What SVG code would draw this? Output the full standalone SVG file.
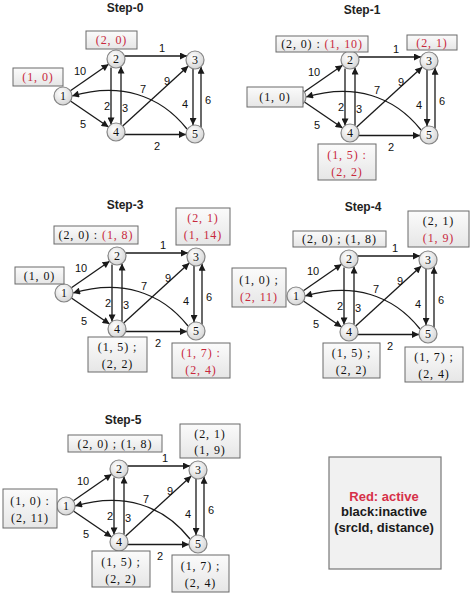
<svg xmlns="http://www.w3.org/2000/svg" xmlns:xlink="http://www.w3.org/1999/xlink" width="474" height="594" viewBox="0 0 474 594">
<style>
.e{fill:none;stroke:#1a1a1a;stroke-width:1.3;marker-end:url(#ah)}
.el{font-family:"Liberation Sans",Arial,sans-serif;font-size:11px;fill:#111;text-anchor:middle}
.nc{fill:url(#ng);stroke:#858585;stroke-width:1.2}
.nt{font-family:"Liberation Serif","Times New Roman",serif;font-size:12px;fill:#111;text-anchor:middle}
.bx{fill:url(#bg);stroke:#6a6a6a;stroke-width:1}
.bt{font-family:"Liberation Serif","Times New Roman",serif;font-size:12px;fill:#111;text-anchor:middle;letter-spacing:0.9px}
.r{fill:#c8283c}
.ti{font-family:"Liberation Sans",Arial,sans-serif;font-size:12px;font-weight:bold;fill:#222;text-anchor:middle}
.lg{font-family:"Liberation Sans",Arial,sans-serif;font-size:13px;font-weight:bold;fill:#1a1a1a;text-anchor:middle}
</style>
<defs>
<marker id="ah" viewBox="0 0 10 10" refX="10" refY="5" markerWidth="8" markerHeight="7" markerUnits="userSpaceOnUse" orient="auto">
<path d="M0,0 L10,5 L0,10 z" fill="#1a1a1a"/>
</marker>
<radialGradient id="ng" cx="0.4" cy="0.35" r="0.7">
<stop offset="0" stop-color="#ffffff"/>
<stop offset="1" stop-color="#d4d4d4"/>
</radialGradient>
<linearGradient id="bg" x1="0" y1="0" x2="0" y2="1">
<stop offset="0" stop-color="#fbfbfb"/>
<stop offset="1" stop-color="#e6e6e6"/>
</linearGradient>
</defs>
<rect width="474" height="594" fill="#ffffff"/>

<!-- titles -->
<g id="titles">
<text class="ti" x="125" y="12">Step-0</text>
<text class="ti" x="362" y="14">Step-1</text>
<text class="ti" x="125" y="209">Step-3</text>
<text class="ti" x="363" y="211">Step-4</text>
<text class="ti" x="123" y="424">Step-5</text>
</g>

<!-- connectors -->
<g id="connectors">
<g id="s0-edges" transform="translate(0,0)">
<path class="e" d="M70.4,90.8 L108.6,64.2"/>
<path class="e" d="M70.4,101 L108.6,127"/>
<path class="e" d="M124.5,56 L187,56"/>
<path class="e" d="M111,67.6 L111,124.5"/>
<path class="e" d="M121,124.5 L121,66.5"/>
<path class="e" d="M122.7,125.9 L188.3,66.1"/>
<path class="e" d="M125,134.5 L186,134.5"/>
<path class="e" d="M193,69 L193,125"/>
<path class="e" d="M201,127.3 L201,66.7"/>
<path class="e" d="M187,129 C160,95 120,82 72,96"/>
<text class="el" x="80" y="75">10</text><text class="el" x="83" y="128">5</text><text class="el" x="162" y="52">1</text><text class="el" x="107" y="110">2</text><text class="el" x="125" y="112">3</text><text class="el" x="167" y="85">9</text><text class="el" x="157" y="150">2</text><text class="el" x="185" y="108">4</text><text class="el" x="208" y="104">6</text><text class="el" x="143" y="93">7</text>
</g>
<g id="s1-edges" transform="translate(234,1)">
<path class="e" d="M70.4,90.8 L108.6,64.2"/>
<path class="e" d="M70.4,101 L108.6,127"/>
<path class="e" d="M124.5,56 L187,56"/>
<path class="e" d="M111,67.6 L111,124.5"/>
<path class="e" d="M121,124.5 L121,66.5"/>
<path class="e" d="M122.7,125.9 L188.3,66.1"/>
<path class="e" d="M125,134.5 L186,134.5"/>
<path class="e" d="M193,69 L193,125"/>
<path class="e" d="M201,127.3 L201,66.7"/>
<path class="e" d="M187,129 C160,95 120,82 72,96"/>
<text class="el" x="80" y="75">10</text><text class="el" x="83" y="128">5</text><text class="el" x="162" y="52">1</text><text class="el" x="107" y="110">2</text><text class="el" x="125" y="112">3</text><text class="el" x="167" y="85">9</text><text class="el" x="157" y="150">2</text><text class="el" x="185" y="108">4</text><text class="el" x="208" y="104">6</text><text class="el" x="143" y="93">7</text>
</g>
<g id="s3-edges" transform="translate(1,197)">
<path class="e" d="M70.4,90.8 L108.6,64.2"/>
<path class="e" d="M70.4,101 L108.6,127"/>
<path class="e" d="M124.5,56 L187,56"/>
<path class="e" d="M111,67.6 L111,124.5"/>
<path class="e" d="M121,124.5 L121,66.5"/>
<path class="e" d="M122.7,125.9 L188.3,66.1"/>
<path class="e" d="M125,134.5 L186,134.5"/>
<path class="e" d="M193,69 L193,125"/>
<path class="e" d="M201,127.3 L201,66.7"/>
<path class="e" d="M187,129 C160,95 120,82 72,96"/>
<text class="el" x="80" y="75">10</text><text class="el" x="83" y="128">5</text><text class="el" x="162" y="52">1</text><text class="el" x="107" y="110">2</text><text class="el" x="125" y="112">3</text><text class="el" x="167" y="85">9</text><text class="el" x="157" y="150">2</text><text class="el" x="185" y="108">4</text><text class="el" x="208" y="104">6</text><text class="el" x="143" y="93">7</text>
</g>
<g id="s4-edges" transform="translate(233,200)">
<path class="e" d="M70.4,90.8 L108.6,64.2"/>
<path class="e" d="M70.4,101 L108.6,127"/>
<path class="e" d="M124.5,56 L187,56"/>
<path class="e" d="M111,67.6 L111,124.5"/>
<path class="e" d="M121,124.5 L121,66.5"/>
<path class="e" d="M122.7,125.9 L188.3,66.1"/>
<path class="e" d="M125,134.5 L186,134.5"/>
<path class="e" d="M193,69 L193,125"/>
<path class="e" d="M201,127.3 L201,66.7"/>
<path class="e" d="M187,129 C160,95 120,82 72,96"/>
<text class="el" x="80" y="75">10</text><text class="el" x="83" y="128">5</text><text class="el" x="162" y="52">1</text><text class="el" x="107" y="110">2</text><text class="el" x="125" y="112">3</text><text class="el" x="167" y="85">9</text><text class="el" x="157" y="150">2</text><text class="el" x="185" y="108">4</text><text class="el" x="208" y="104">6</text><text class="el" x="143" y="93">7</text>
</g>
<g id="s5-edges" transform="translate(3,410)">
<path class="e" d="M70.4,90.8 L108.6,64.2"/>
<path class="e" d="M70.4,101 L108.6,127"/>
<path class="e" d="M124.5,56 L187,56"/>
<path class="e" d="M111,67.6 L111,124.5"/>
<path class="e" d="M121,124.5 L121,66.5"/>
<path class="e" d="M122.7,125.9 L188.3,66.1"/>
<path class="e" d="M125,134.5 L186,134.5"/>
<path class="e" d="M193,69 L193,125"/>
<path class="e" d="M201,127.3 L201,66.7"/>
<path class="e" d="M187,129 C160,95 120,82 72,96"/>
<text class="el" x="80" y="75">10</text><text class="el" x="83" y="128">5</text><text class="el" x="162" y="52">1</text><text class="el" x="107" y="110">2</text><text class="el" x="125" y="112">3</text><text class="el" x="167" y="85">9</text><text class="el" x="157" y="150">2</text><text class="el" x="185" y="108">4</text><text class="el" x="208" y="104">6</text><text class="el" x="143" y="93">7</text>
</g>
</g>

<!-- nodes -->
<g id="step0-nodes" transform="translate(0,0)">
<g id="s0-n1"><circle class="nc" cx="63" cy="96" r="9"/><text class="nt" x="63" y="100">1</text></g>
<g id="s0-n2"><circle class="nc" cx="116" cy="59" r="9"/><text class="nt" x="116" y="63">2</text></g>
<g id="s0-n3"><circle class="nc" cx="195" cy="60" r="9"/><text class="nt" x="195" y="64">3</text></g>
<g id="s0-n4"><circle class="nc" cx="116" cy="132" r="9"/><text class="nt" x="116" y="136">4</text></g>
<g id="s0-n5"><circle class="nc" cx="195" cy="134" r="9"/><text class="nt" x="195" y="138">5</text></g>
</g>
<g id="step1-nodes" transform="translate(234,1)">
<g id="s1-n1"><circle class="nc" cx="63" cy="96" r="9"/><text class="nt" x="63" y="100">1</text></g>
<g id="s1-n2"><circle class="nc" cx="116" cy="59" r="9"/><text class="nt" x="116" y="63">2</text></g>
<g id="s1-n3"><circle class="nc" cx="195" cy="60" r="9"/><text class="nt" x="195" y="64">3</text></g>
<g id="s1-n4"><circle class="nc" cx="116" cy="132" r="9"/><text class="nt" x="116" y="136">4</text></g>
<g id="s1-n5"><circle class="nc" cx="195" cy="134" r="9"/><text class="nt" x="195" y="138">5</text></g>
</g>
<g id="step3-nodes" transform="translate(1,197)">
<g id="s3-n1"><circle class="nc" cx="63" cy="96" r="9"/><text class="nt" x="63" y="100">1</text></g>
<g id="s3-n2"><circle class="nc" cx="116" cy="59" r="9"/><text class="nt" x="116" y="63">2</text></g>
<g id="s3-n3"><circle class="nc" cx="195" cy="60" r="9"/><text class="nt" x="195" y="64">3</text></g>
<g id="s3-n4"><circle class="nc" cx="116" cy="132" r="9"/><text class="nt" x="116" y="136">4</text></g>
<g id="s3-n5"><circle class="nc" cx="195" cy="134" r="9"/><text class="nt" x="195" y="138">5</text></g>
</g>
<g id="step4-nodes" transform="translate(233,200)">
<g id="s4-n1"><circle class="nc" cx="63" cy="96" r="9"/><text class="nt" x="63" y="100">1</text></g>
<g id="s4-n2"><circle class="nc" cx="116" cy="59" r="9"/><text class="nt" x="116" y="63">2</text></g>
<g id="s4-n3"><circle class="nc" cx="195" cy="60" r="9"/><text class="nt" x="195" y="64">3</text></g>
<g id="s4-n4"><circle class="nc" cx="116" cy="132" r="9"/><text class="nt" x="116" y="136">4</text></g>
<g id="s4-n5"><circle class="nc" cx="195" cy="134" r="9"/><text class="nt" x="195" y="138">5</text></g>
</g>
<g id="step5-nodes" transform="translate(3,410)">
<g id="s5-n1"><circle class="nc" cx="63" cy="96" r="9"/><text class="nt" x="63" y="100">1</text></g>
<g id="s5-n2"><circle class="nc" cx="116" cy="59" r="9"/><text class="nt" x="116" y="63">2</text></g>
<g id="s5-n3"><circle class="nc" cx="195" cy="60" r="9"/><text class="nt" x="195" y="64">3</text></g>
<g id="s5-n4"><circle class="nc" cx="116" cy="132" r="9"/><text class="nt" x="116" y="136">4</text></g>
<g id="s5-n5"><circle class="nc" cx="195" cy="134" r="9"/><text class="nt" x="195" y="138">5</text></g>
</g>

<!-- state boxes -->
<g id="step0-boxes">
<g id="s0-b2"><rect class="bx" x="86" y="31" width="51" height="18"/><text class="bt r" x="111.5" y="44">(2, 0)</text></g>
<g id="s0-b1"><rect class="bx" x="13" y="68" width="50" height="18"/><text class="bt r" x="38" y="81">(1, 0)</text></g>
</g>
<g id="step1-boxes">
<g id="s1-b2"><rect class="bx" x="276" y="36" width="92" height="16"/><text class="bt" x="322" y="48">(2, 0) : <tspan class="r">(1, 10)</tspan></text></g>
<g id="s1-b3"><rect class="bx" x="407" y="35" width="50" height="15"/><text class="bt r" x="432" y="46.5">(2, 1)</text></g>
<g id="s1-b1"><rect class="bx" x="247" y="87" width="56" height="20"/><text class="bt" x="275" y="101">(1, 0)</text></g>
<g id="s1-b4"><rect class="bx" x="318" y="144" width="58" height="36"/><text class="bt r" x="347" y="159">(1, 5) :</text><text class="bt r" x="347" y="176">(2, 2)</text></g>
</g>
<g id="step3-boxes">
<g id="s3-b2"><rect class="bx" x="54" y="226" width="84" height="18"/><text class="bt" x="96" y="239">(2, 0) : <tspan class="r">(1, 8)</tspan></text></g>
<g id="s3-b1"><rect class="bx" x="15" y="267" width="49" height="17"/><text class="bt" x="39.5" y="279.5">(1, 0)</text></g>
<g id="s3-b3"><rect class="bx" x="176" y="208" width="54" height="37"/><text class="bt r" x="203" y="222">(2, 1)</text><text class="bt r" x="203" y="239">(1, 14)</text></g>
<g id="s3-b4"><rect class="bx" x="88" y="337" width="59" height="35"/><text class="bt" x="117.5" y="351">(1, 5) ;</text><text class="bt" x="117.5" y="368">(2, 2)</text></g>
<g id="s3-b5"><rect class="bx" x="172" y="343" width="58" height="35"/><text class="bt r" x="201" y="357">(1, 7) :</text><text class="bt r" x="201" y="374">(2, 4)</text></g>
</g>
<g id="step4-boxes">
<g id="s4-b2"><rect class="bx" x="293" y="231" width="93" height="16"/><text class="bt" x="339.5" y="243">(2, 0) ; (1, 8)</text></g>
<g id="s4-b1"><rect class="bx" x="232" y="268" width="54" height="39"/><text class="bt" x="259" y="284">(1, 0) ;</text><text class="bt r" x="259" y="301">(2, 11)</text></g>
<g id="s4-b3"><rect class="bx" x="408" y="211" width="61" height="36"/><text class="bt" x="438.5" y="225">(2, 1)</text><text class="bt r" x="438.5" y="242">(1, 9)</text></g>
<g id="s4-b4"><rect class="bx" x="323" y="343" width="57" height="35"/><text class="bt" x="351.5" y="357">(1, 5) ;</text><text class="bt" x="351.5" y="374">(2, 2)</text></g>
<g id="s4-b5"><rect class="bx" x="405" y="347" width="58" height="35"/><text class="bt" x="434" y="361">(1, 7) ;</text><text class="bt" x="434" y="378">(2, 4)</text></g>
</g>
<g id="step5-boxes">
<g id="s5-b2"><rect class="bx" x="68" y="435" width="94" height="17"/><text class="bt" x="115" y="447.5">(2, 0) ; (1, 8)</text></g>
<g id="s5-b3"><rect class="bx" x="180" y="424" width="60" height="34"/><text class="bt" x="210" y="438">(2, 1)</text><text class="bt" x="210" y="454">(1, 9)</text></g>
<g id="s5-b1"><rect class="bx" x="3" y="489" width="54" height="39"/><text class="bt" x="30" y="505">(1, 0) :</text><text class="bt" x="30" y="522">(2, 11)</text></g>
<g id="s5-b4"><rect class="bx" x="92" y="551" width="58" height="36"/><text class="bt" x="121" y="566">(1, 5) ;</text><text class="bt" x="121" y="583">(2, 2)</text></g>
<g id="s5-b5"><rect class="bx" x="172" y="555" width="57" height="37"/><text class="bt" x="200.5" y="570">(1, 7) ;</text><text class="bt" x="200.5" y="587">(2, 4)</text></g>
</g>

<!-- legend -->
<g id="legend">
<rect x="329" y="457" width="112" height="112" fill="#f1f1f1" stroke="#777" stroke-width="1.2"/>
<text class="lg" x="384" y="501" fill="#d63048" style="fill:#d63048">Red: active</text>
<text class="lg" x="384" y="516">black:inactive</text>
<text class="lg" x="384" y="532">(srcId, distance)</text>
</g>
</svg>
